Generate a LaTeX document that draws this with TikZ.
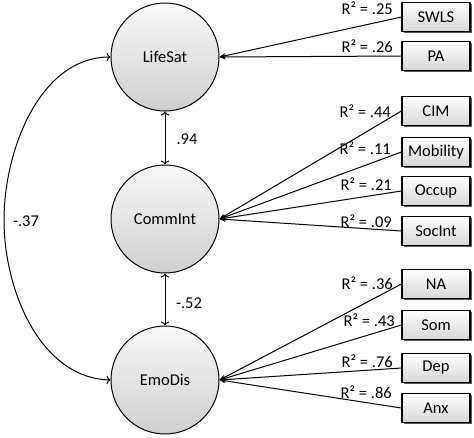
\documentclass[tikz,border=0pt]{standalone}
\usepackage{fontspec}
\setmainfont{Carlito}
\usetikzlibrary{arrows.meta,shadows}
\begin{document}
\begin{tikzpicture}[x=1pt,y=-1pt, font=\fontsize{16.5}{19}\selectfont,
 latent/.style={circle, draw, line width=1pt, minimum size=108pt, inner sep=0pt, top color=gray!5, bottom color=gray!38},
 obs/.style={draw, line width=1.1pt, minimum width=68pt, minimum height=29pt, inner sep=0pt, top color=white, bottom color=gray!32, drop shadow={shadow xshift=1.6pt, shadow yshift=-1.6pt, fill=black!65, opacity=1}},
 load/.style={line width=1pt, -{Stealth[length=6pt,width=5pt]}},
 corr/.style={line width=1pt, {To[length=4pt]}-{To[length=4pt]}},
 rlab/.style={anchor=east, inner sep=0pt},
 plab/.style={inner sep=0pt}]
\fill[white] (0,0) rectangle (474,437);
\useasboundingbox (0,0) rectangle (474,437);

\node[latent] (ls) at (165,57) {LifeSat};
\node[latent] (ci) at (165,219) {CommInt};
\node[latent] (ed) at (165,380) {EmoDis};

\node[obs] (swls) at (436,17) {SWLS};
\node[obs] (pa) at (436,56) {PA};
\node[obs] (cim) at (436,111) {CIM};
\node[obs] (mob) at (436,152) {Mobility};
\node[obs] (occ) at (436,191) {Occup};
\node[obs] (soc) at (436,231) {SocInt};
\node[obs] (na) at (436,284) {NA};
\node[obs] (som) at (436,325) {Som};
\node[obs] (dep) at (436,368) {Dep};
\node[obs] (anx) at (436,408) {Anx};

\draw[load] (swls.west) -- (ls.east);
\draw[load] (pa.west) -- (ls.east);
\draw[load] (cim.west) -- (ci.east);
\draw[load] (mob.west) -- (ci.east);
\draw[load] (occ.west) -- (ci.east);
\draw[load] (soc.west) -- (ci.east);
\draw[load] (na.west) -- (ed.east);
\draw[load] (som.west) -- (ed.east);
\draw[load] (dep.west) -- (ed.east);
\draw[load] (anx.west) -- (ed.east);

\node[rlab] (r1) at (393,8) {R² = .25};
\node[rlab] (r2) at (393,46) {R² = .26};
\node[rlab] (r3) at (391,111) {R² = .44};
\node[rlab] (r4) at (391,148) {R² = .11};
\node[rlab] (r5) at (392,184) {R² = .21};
\node[rlab] (r6) at (392,221) {R² = .09};
\node[rlab] (r7) at (393,283) {R² = .36};
\node[rlab] (r8) at (395,320) {R² = .43};
\node[rlab] (r9) at (393,361) {R² = .76};
\node[rlab] (r10) at (392,392) {R² = .86};

\draw[corr] (ls.south) -- (ci.north);
\draw[corr] (ci.south) -- (ed.north);
\draw[corr] (ls.west) .. controls (40,57) and (4,150) .. (4,220) .. controls (4,290) and (40,378) .. (ed.west);

\node[plab] (c1) at (187,139) {.94};
\node[plab] (c2) at (189,303) {-.52};
\node[plab] (c3) at (26,221) {-.37};
\end{tikzpicture}
\end{document}
